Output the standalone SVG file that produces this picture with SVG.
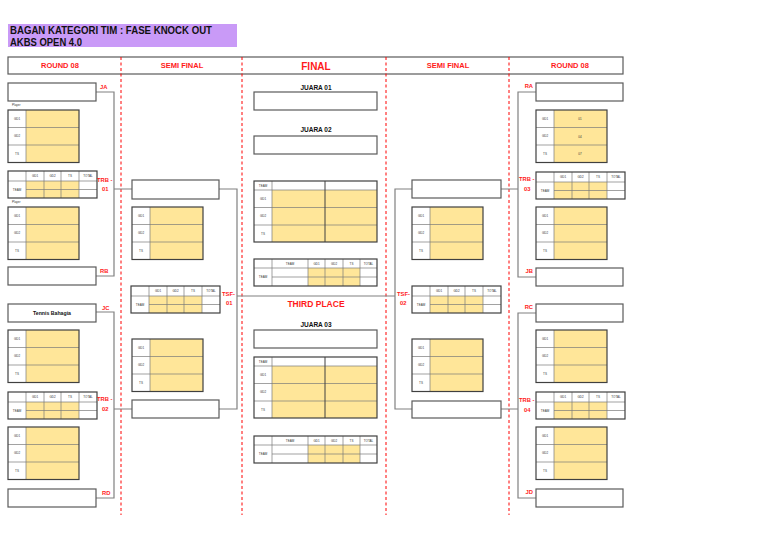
<svg xmlns="http://www.w3.org/2000/svg" xmlns:xlink="http://www.w3.org/1999/xlink" width="768" height="543" viewBox="0 0 768 543">
<style>
.bg{fill:#ffffff}
.box{fill:#ffffff;stroke:#5a5a5a;stroke-width:1.2}
.out{fill:none;stroke:#404040;stroke-width:1.2}
.yl{fill:#FFE699}
.wh{fill:#ffffff}
.gl{stroke:#7a7a7a;stroke-width:0.7;fill:none}
.con{fill:none;stroke:#808080;stroke-width:1.2}
.dash{stroke:#ff0000;stroke-width:1;stroke-dasharray:3 2.5;fill:none}
.hdr{font-family:"Liberation Sans",Arial,sans-serif;font-weight:bold;fill:#ff1a1a;text-anchor:middle}
.red{font-family:"Liberation Sans",Arial,sans-serif;font-weight:bold;fill:#ff1a1a;font-size:5.8px}
.tiny{font-family:"Liberation Sans",Arial,sans-serif;font-size:3px;fill:#333;text-anchor:middle}
.blk{font-family:"Liberation Sans",Arial,sans-serif;font-weight:bold;fill:#111;text-anchor:middle}
</style>
<defs>
<g id="pt">
<rect x="0" y="0" width="18" height="52.5" class="wh"/>
<rect x="18" y="0" width="53" height="52.5" class="yl"/>
<path class="gl" d="M18,0V52.5M0,17.5H71M0,35H71"/>
<rect x="0" y="0" width="71" height="52.5" class="out"/>
<text class="tiny" x="9" y="9.7">GD1</text>
<text class="tiny" x="9" y="27.2">GD2</text>
<text class="tiny" x="9" y="44.7">TS</text>
</g>
<g id="st">
<rect x="0" y="0" width="89" height="27" class="wh"/>
<rect x="18" y="10" width="53" height="17" class="yl"/>
<path class="gl" d="M0,10H89M18,0V27M36,0V27M53,0V27M71,0V27M18,18.5H89"/>
<rect x="0" y="0" width="89" height="27" class="out"/>
<text class="tiny" x="27" y="6">GD1</text>
<text class="tiny" x="44.5" y="6">GD2</text>
<text class="tiny" x="62" y="6">TS</text>
<text class="tiny" x="80" y="6">TOTAL</text>
<text class="tiny" x="9" y="19.5">TEAM</text>
</g>
<g id="ft">
<rect x="0" y="0" width="123" height="61" class="wh"/>
<rect x="18" y="9" width="105" height="52" class="yl"/>
<path class="gl" d="M0,9H123M0,26.5H123M0,44H123M18,0V61"/>
<path d="M71,0V61" stroke="#404040" stroke-width="1"/>
<rect x="0" y="0" width="123" height="61" class="out"/>
<text class="tiny" x="9" y="5.6">TEAM</text>
<text class="tiny" x="9" y="18.8">GD1</text>
<text class="tiny" x="9" y="36.3">GD2</text>
<text class="tiny" x="9" y="53.8">TS</text>
</g>
<g id="fs">
<rect x="0" y="0" width="123" height="27" class="wh"/>
<rect x="54" y="9" width="52" height="18" class="yl"/>
<path class="gl" d="M0,9H123M18,0V27M54,0V27M71,0V27M89,0V27M106,0V27M18,18H123"/>
<rect x="0" y="0" width="123" height="27" class="out"/>
<text class="tiny" x="36" y="5.6">TEAM</text>
<text class="tiny" x="62.5" y="5.6">GD1</text>
<text class="tiny" x="80" y="5.6">GD2</text>
<text class="tiny" x="97.5" y="5.6">TS</text>
<text class="tiny" x="114.5" y="5.6">TOTAL</text>
<text class="tiny" x="9" y="19">TEAM</text>
</g>
</defs>
<rect class="bg" x="0" y="0" width="768" height="543"/>

<g id="title">
<rect x="8" y="24" width="229" height="23" fill="#C99AF7"/>
<text x="10" y="34" font-family="Liberation Sans,Arial,sans-serif" font-weight="bold" font-size="10.5" fill="#111" textLength="202" lengthAdjust="spacingAndGlyphs">BAGAN KATEGORI TIM : FASE KNOCK OUT</text>
<text x="10" y="46" font-family="Liberation Sans,Arial,sans-serif" font-weight="bold" font-size="10.5" fill="#111" textLength="72" lengthAdjust="spacingAndGlyphs">AKBS OPEN 4.0</text>
</g>

<g id="header">
<rect x="8" y="57" width="615" height="17" class="box"/>
<text class="hdr" x="60" y="68" font-size="7.5">ROUND 08</text>
<text class="hdr" x="182" y="68" font-size="7.5">SEMI FINAL</text>
<text class="hdr" x="316" y="69.5" font-size="10">FINAL</text>
<text class="hdr" x="448" y="68" font-size="7.5">SEMI FINAL</text>
<text class="hdr" x="570" y="68" font-size="7.5">ROUND 08</text>
</g>

<g id="dividers">
<path class="dash" d="M121,57V515M242,57V515M386,57V515M509,57V515"/>
</g>

<g id="connectors">
<path class="con" d="M96,92H114V276H96M114,189H132"/>
<path class="con" d="M96,312H114V498H96M114,409H132"/>
<path class="con" d="M219,189H237V409H219M237,296H395"/>
<path class="con" d="M412,189H395V409H412"/>
<path class="con" d="M536,92H518V277H536M501,189H518"/>
<path class="con" d="M536,313H518V498H536M501,409H518"/>
</g>

<!-- Left round 08 -->
<g id="JA">
<rect x="8" y="83" width="88" height="18" class="box"/>
<text class="red" x="100" y="88.5" font-size="4.8">JA</text>
</g>
<g id="L-table1">
<text x="12" y="105.5" font-family="Liberation Sans,Arial,sans-serif" font-size="3" fill="#333">Player</text>
<use xlink:href="#pt" x="8" y="110"/>
</g>
<g id="TRB-01">
<use xlink:href="#st" x="8" y="171"/>
<text class="red" x="97" y="182">TRB -</text>
<text class="red" x="102" y="191">01</text>
</g>
<g id="L-table2">
<text x="12" y="203" font-family="Liberation Sans,Arial,sans-serif" font-size="3" fill="#333">Player</text>
<use xlink:href="#pt" x="8" y="207"/>
</g>
<g id="RB">
<rect x="8" y="267" width="88" height="18" class="box"/>
<text class="red" x="100" y="272.5" font-size="4.8">RB</text>
</g>
<g id="JC">
<rect x="8" y="304" width="88" height="18" class="box"/>
<text class="blk" x="52" y="314.5" font-size="5.2">Tennis Bahagia</text>
<text class="red" x="102" y="310" font-size="4.8">JC</text>
</g>
<g id="L-table3"><use xlink:href="#pt" x="8" y="330"/></g>
<g id="TRB-02">
<use xlink:href="#st" x="8" y="392"/>
<text class="red" x="97" y="401">TRB -</text>
<text class="red" x="102" y="411">02</text>
</g>
<g id="L-table4"><use xlink:href="#pt" x="8" y="427"/></g>
<g id="RD">
<rect x="8" y="489" width="88" height="18" class="box"/>
<text class="red" x="102" y="494.5" font-size="4.8">RD</text>
</g>

<!-- Left semi final -->
<g id="SF-L1"><rect x="132" y="180" width="87" height="19" class="box"/></g>
<g id="SF-L-table1"><use xlink:href="#pt" x="132" y="207"/></g>
<g id="TSF-01">
<use xlink:href="#st" x="131" y="286"/>
<text class="red" x="222" y="296">TSF-</text>
<text class="red" x="226" y="305">01</text>
</g>
<g id="SF-L-table2"><use xlink:href="#pt" x="132" y="339"/></g>
<g id="SF-L2"><rect x="132" y="400" width="87" height="18" class="box"/></g>

<!-- Final -->
<g id="JUARA01">
<text class="blk" x="316" y="89.5" font-size="6.5">JUARA 01</text>
<rect x="254" y="92" width="123" height="18" class="box"/>
</g>
<g id="JUARA02">
<text class="blk" x="316" y="132" font-size="6.5">JUARA 02</text>
<rect x="254" y="136" width="123" height="18" class="box"/>
</g>
<g id="final-team"><use xlink:href="#ft" x="254" y="181"/></g>
<g id="final-score"><use xlink:href="#fs" x="254" y="259"/></g>
<g id="third-place">
<text class="hdr" x="316" y="306.5" font-size="8.5">THIRD PLACE</text>
</g>
<g id="JUARA03">
<text class="blk" x="316" y="326.5" font-size="6.5">JUARA 03</text>
<rect x="254" y="330" width="123" height="18" class="box"/>
</g>
<g id="third-team"><use xlink:href="#ft" x="254" y="357"/></g>
<g id="third-score"><use xlink:href="#fs" x="254" y="436"/></g>

<!-- Right semi final -->
<g id="SF-R1"><rect x="412" y="180" width="89" height="18" class="box"/></g>
<g id="SF-R-table1"><use xlink:href="#pt" x="412" y="207"/></g>
<g id="TSF-02">
<use xlink:href="#st" x="412" y="286"/>
<text class="red" x="397" y="296">TSF-</text>
<text class="red" x="400" y="305">02</text>
</g>
<g id="SF-R-table2"><use xlink:href="#pt" x="412" y="339"/></g>
<g id="SF-R2"><rect x="412" y="401" width="89" height="17" class="box"/></g>

<!-- Right round 08 -->
<g id="RA">
<rect x="536" y="83" width="87" height="18" class="box"/>
<text class="red" x="533" y="88" font-size="4.8" text-anchor="end">RA</text>
</g>
<g id="R-table1">
<use xlink:href="#pt" x="536" y="110"/>
<text class="tiny" x="580" y="120">01</text>
<text class="tiny" x="580" y="137.5">04</text>
<text class="tiny" x="580" y="155">07</text>
</g>
<g id="TRB-03">
<use xlink:href="#st" x="536" y="172"/>
<text class="red" x="519" y="181">TRB -</text>
<text class="red" x="524" y="191">03</text>
</g>
<g id="R-table2"><use xlink:href="#pt" x="536" y="207"/></g>
<g id="JB">
<rect x="536" y="268" width="87" height="18" class="box"/>
<text class="red" x="533" y="273" font-size="4.8" text-anchor="end">JB</text>
</g>
<g id="RC">
<rect x="536" y="304" width="87" height="18" class="box"/>
<text class="red" x="533" y="309" font-size="4.8" text-anchor="end">RC</text>
</g>
<g id="R-table3"><use xlink:href="#pt" x="536" y="330"/></g>
<g id="TRB-04">
<use xlink:href="#st" x="536" y="392"/>
<text class="red" x="519" y="402">TRB -</text>
<text class="red" x="524" y="412">04</text>
</g>
<g id="R-table4"><use xlink:href="#pt" x="536" y="427"/></g>
<g id="JD">
<rect x="536" y="489" width="87" height="18" class="box"/>
<text class="red" x="533" y="494" font-size="4.8" text-anchor="end">JD</text>
</g>
</svg>
